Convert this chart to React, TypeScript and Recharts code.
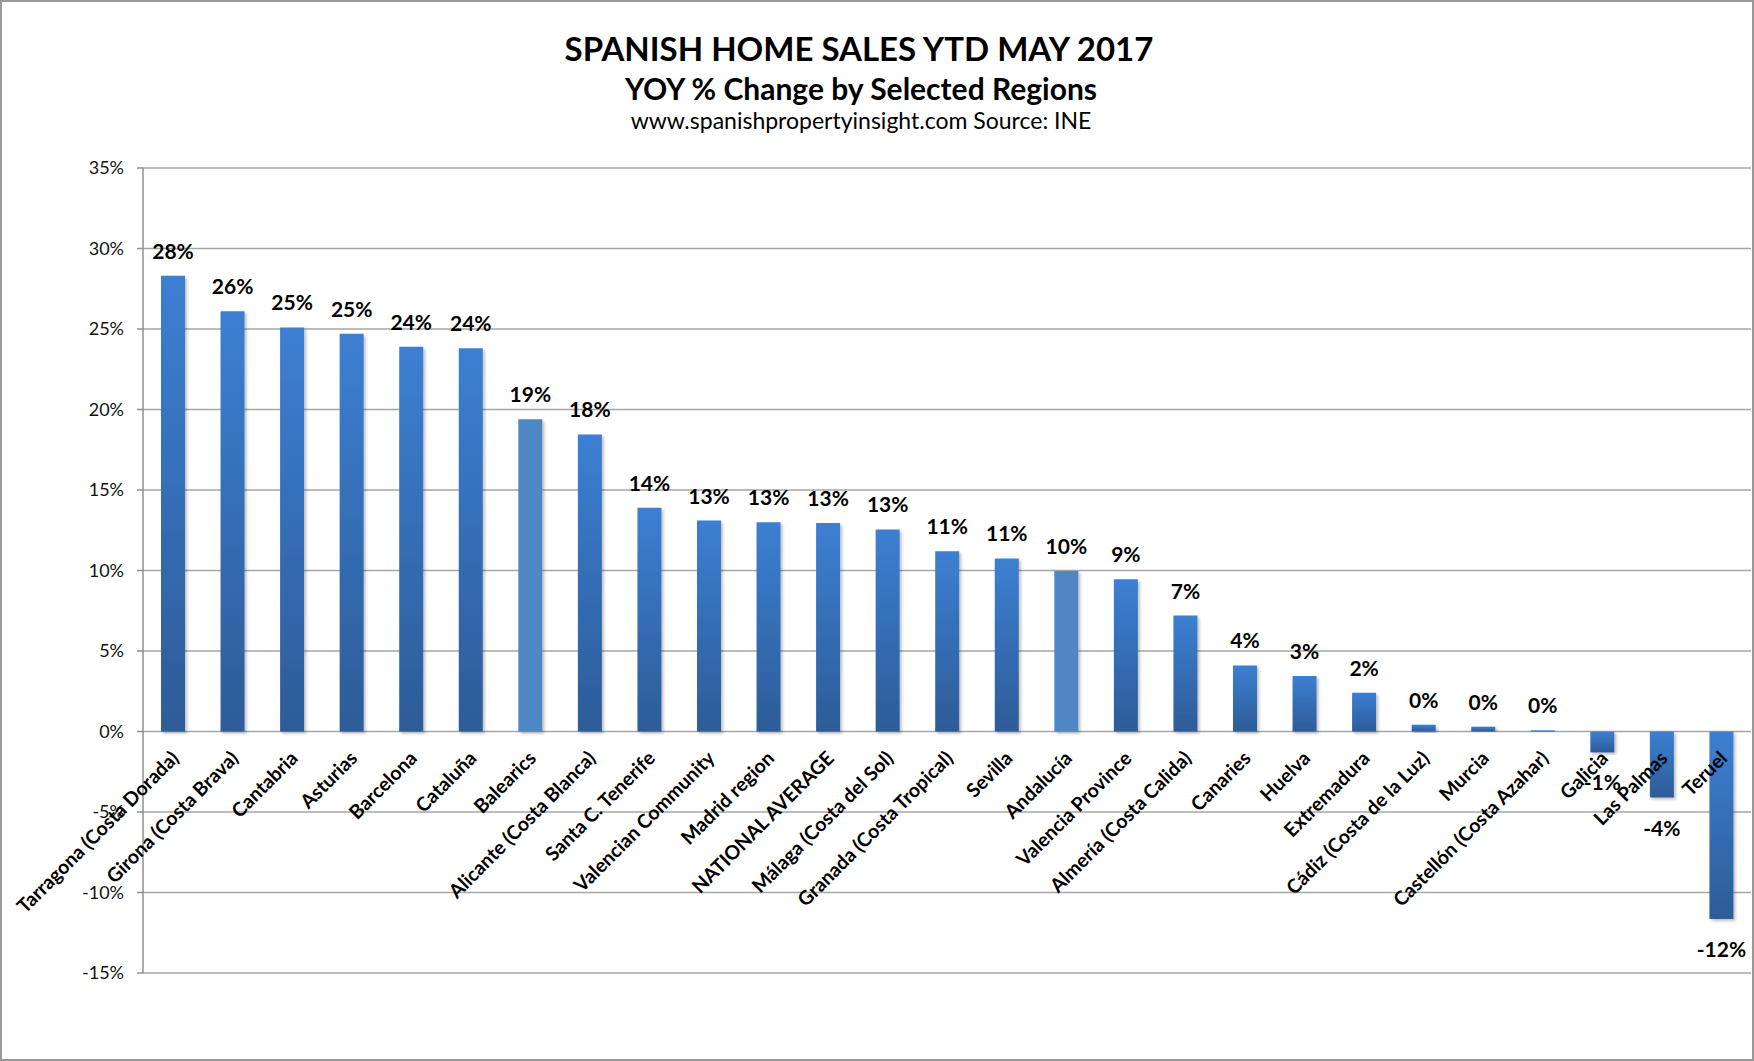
import { BarChart, Bar, XAxis, YAxis, CartesianGrid, Cell, LabelList } from 'recharts';

const regions = [
  'Tarragona (Costa Dorada)',
  'Girona (Costa Brava)',
  'Cantabria',
  'Asturias',
  'Barcelona',
  'Cataluña',
  'Balearics',
  'Alicante (Costa Blanca)',
  'Santa C. Tenerife',
  'Valencian Community',
  'Madrid region',
  'NATIONAL AVERAGE',
  'Málaga (Costa del Sol)',
  'Granada (Costa Tropical)',
  'Sevilla',
  'Andalucía',
  'Valencia Province',
  'Almería (Costa Calida)',
  'Canaries',
  'Huelva',
  'Extremadura',
  'Cádiz (Costa de la Luz)',
  'Murcia',
  'Castellón (Costa Azahar)',
  'Galicia',
  'Las Palmas',
  'Teruel',
];

// YOY % change
const changes = [
  28.3, 26.1, 25.1, 24.7, 23.9, 23.8, 19.4, 18.45, 13.9, 13.1, 13.0, 12.95, 12.55, 11.2,
  10.75, 9.97, 9.45, 7.2, 4.1, 3.45, 2.4, 0.42, 0.3, 0.07, -1.3, -4.1, -11.65,
];

const highlighted = ['Balearics', 'Andalucía'];

const yTicks = [-15, -10, -5, 0, 5, 10, 15, 20, 25, 30, 35];

const data = regions.map((region, i) => ({ region, change: changes[i] }));

const FONT = 'Lato, "Open Sans", sans-serif';

// eslint-disable-next-line @typescript-eslint/no-explicit-any
function box(props: any) {
  const vb = props.viewBox ?? {};
  const x = Number(props.x ?? vb.x);
  const y = Number(props.y ?? vb.y);
  const width = Number(props.width ?? vb.width);
  const height = Number(props.height ?? vb.height);
  return { x, y, width, height };
}

// eslint-disable-next-line @typescript-eslint/no-explicit-any
function ValueLabel(props: any) {
  const { x, y, width, height } = box(props);
  const v = Number(props.value);
  const cx = x + width / 2;
  const top = Math.min(y, y + height);
  const bottom = Math.max(y, y + height);
  const ty = v >= 0 ? top - 17 : bottom + 38;
  return (
    <text x={cx} y={ty} textAnchor="middle" fontFamily={FONT} fontWeight={700} fontSize={21} fill="#000">
      {`${Math.round(v)}%`}
    </text>
  );
}

// eslint-disable-next-line @typescript-eslint/no-explicit-any
function RegionLabel(props: any) {
  const { x, y, width, height } = box(props);
  const v = Number(data[props.index]?.change ?? 0);
  // zero line = base of the bar
  const base = v >= 0 ? Math.max(y, y + height) : Math.min(y, y + height);
  const ax = x + width / 2 + 7;
  const ay = base + 28;
  return (
    <text
      x={ax}
      y={ay}
      textAnchor="end"
      transform={`rotate(-45 ${ax} ${ay})`}
      fontFamily={FONT}
      fontWeight={700}
      fontSize={19.5}
      fill="#000"
    >
      {props.value}
    </text>
  );
}

export default function App() {
  return (
    <div
      style={{
        position: 'absolute',
        left: 0,
        top: 0,
        width: 1754,
        height: 1061,
        background: '#fff',
        boxSizing: 'border-box',
        border: '2px solid #999',
        fontFamily: FONT,
      }}
    >
      <div style={{ position: 'absolute', left: 0, top: 0 }}>
        <BarChart width={1750} height={1057} data={data} margin={{ top: 166, right: 1, bottom: 86, left: -2 }}>
          <defs>
            <linearGradient id="barFill" x1="0" y1="0" x2="0" y2="1">
              <stop offset="0%" stopColor="#3c7fd2" />
              <stop offset="100%" stopColor="#2d5c98" />
            </linearGradient>
            <filter id="barShadow" x="-20%" y="-5%" width="150%" height="115%">
              <feDropShadow dx="2" dy="2" stdDeviation="1.5" floodColor="#000" floodOpacity="0.25" />
            </filter>
          </defs>
          <CartesianGrid vertical={false} stroke="#a6a6a6" strokeWidth={1.5} />
          <XAxis dataKey="region" hide />
          <YAxis
            domain={[-15, 35]}
            ticks={yTicks}
            width={143}
            tickSize={6}
            tickMargin={13}
            axisLine={{ stroke: '#8f8f8f', strokeWidth: 1.5 }}
            tickLine={{ stroke: '#8f8f8f', strokeWidth: 1.5 }}
            tick={{ fontFamily: FONT, fontSize: 18, fill: '#111' }}
            tickFormatter={(v: number) => `${v}%`}
          />
          <Bar dataKey="change" barSize={24} isAnimationActive={false} filter="url(#barShadow)">
            {data.map((d) => (
              <Cell key={d.region} fill={highlighted.includes(d.region) ? '#4f86c4' : 'url(#barFill)'} />
            ))}
            <LabelList dataKey="change" content={ValueLabel} />
            <LabelList dataKey="region" content={RegionLabel} />
          </Bar>
        </BarChart>
      </div>
      <div
        style={{
          position: 'absolute',
          left: 0,
          width: 1714,
          top: 28,
          textAlign: 'center',
          fontWeight: 700,
          fontSize: 33,
          lineHeight: '36px',
          color: '#000',
        }}
      >
        SPANISH HOME SALES YTD MAY 2017
      </div>
      <div
        style={{
          position: 'absolute',
          left: 0,
          width: 1718,
          top: 69,
          textAlign: 'center',
          fontWeight: 700,
          fontSize: 30,
          lineHeight: '34px',
          color: '#000',
        }}
      >
        YOY % Change by Selected Regions
      </div>
      <div
        style={{
          position: 'absolute',
          left: 0,
          width: 1718,
          top: 105,
          textAlign: 'center',
          fontSize: 23,
          lineHeight: '26px',
          color: '#000',
        }}
      >
        www.spanishpropertyinsight.com Source: INE
      </div>
    </div>
  );
}
